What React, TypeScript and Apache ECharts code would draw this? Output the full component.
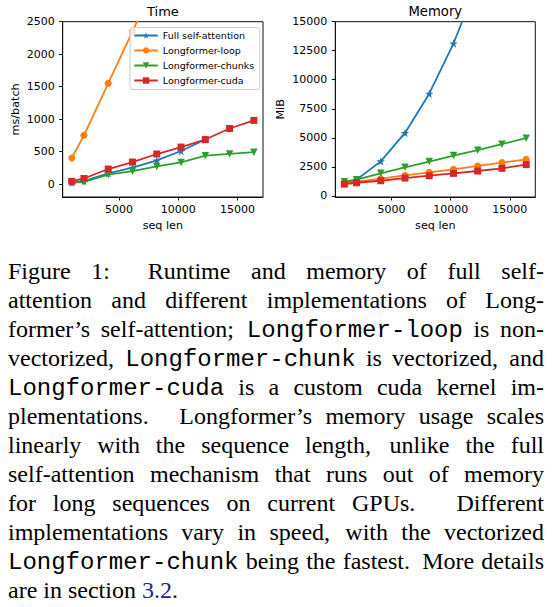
import React, { useEffect, useRef } from "react";
import * as echarts from "echarts";

// ---------------- data ----------------
const seqLen = [1024, 2048, 4096, 6144, 8192, 10240, 12288, 14336, 16384];
const seriesNames = ["Full self-attention", "Longformer-loop", "Longformer-chunks", "Longformer-cuda"];

const timeFull = [20, 46, 164, 251, 364, 508, 685];
const timeLoop = [400, 750, 1550, 2350, 3160, 3950];
const timeChunks = [20, 31, 144, 198, 270, 333, 437, 463, 490];
const timeCuda = [41, 85, 231, 338, 462, 569, 685, 855, 980];

const memFull = [1100, 1390, 2970, 5420, 8800, 13120, 18400];
const memLoop = [1100, 1214, 1474, 1763, 2023, 2283, 2572, 2861, 3150];
const memChunks = [1214, 1387, 1936, 2457, 2948, 3468, 3930, 4450, 4970];
const memCuda = [1011, 1127, 1300, 1531, 1734, 1936, 2139, 2370, 2688];

const xTicks = [5000, 10000, 15000];
const timeTicks = [0, 500, 1000, 1500, 2000, 2500];
const memTicks = [0, 2500, 5000, 7500, 10000, 12500, 15000];

const captionLines = [
  "Figure 1: Runtime and memory of full self-",
  "attention and different implementations of Long-",
  "former\u2019s self-attention; `Longformer-loop` is non-",
  "vectorized, `Longformer-chunk` is vectorized, and",
  "`Longformer-cuda` is a custom cuda kernel im-",
  "plementations. Longformer\u2019s memory usage scales",
  "linearly with the sequence length, unlike the full",
  "self-attention mechanism that runs out of memory",
  "for long sequences on current GPUs. Different",
  "implementations vary in speed, with the vectorized",
  "`Longformer-chunk` being the fastest. More details",
  "are in section [3.2].",
];

// ---------------- styling ----------------
const FONT = "'DejaVu Sans'";
const SERIF = "'Liberation Serif'";
const MONO = "'Liberation Mono'";
const COLORS = ["#1f77b4", "#ff7f0e", "#2ca02c", "#d62728"];
const STAR = "path://M50,0 L61.8,35.5 L99,35.5 L69,57.5 L80.5,93 L50,71 L19.5,93 L31,57.5 L1,35.5 L38.2,35.5 Z";
const SYMBOLS = [STAR, "circle", "triangle", "rect"];
const SYMBOL_SIZE = [8.5, 7, 7.5, 7];
const SYMBOL_ROT = [0, 0, 180, 0];

const pair = (vals: number[]) => vals.map((v, i) => [seqLen[i], v]);

function makeSeries(idx: number, vals: number[], axisIndex: number) {
  return {
    type: "line",
    name: seriesNames[idx],
    xAxisIndex: axisIndex,
    yAxisIndex: axisIndex,
    data: pair(vals),
    symbol: SYMBOLS[idx],
    symbolSize: SYMBOL_SIZE[idx],
    symbolRotate: SYMBOL_ROT[idx],
    showSymbol: true,
    clip: true,
    itemStyle: { color: COLORS[idx], borderWidth: 0 },
    lineStyle: { color: COLORS[idx], width: 1.8 },
    emphasis: { disabled: true },
  };
}

const plain = (v: number) => String(v);
const tickFont = { fontFamily: FONT, fontSize: 11, color: "#000" };
const nameFont = { fontFamily: FONT, fontSize: 11.2, color: "#000" };

function xAxis(gridIndex: number) {
  return {
    type: "value",
    gridIndex,
    min: 256,
    max: 17152,
    name: "seq len",
    nameLocation: "middle",
    nameGap: 23,
    nameTextStyle: nameFont,
    axisLine: { show: true, onZero: false, lineStyle: { color: "#111", width: 1 } },
    axisTick: { show: true, inside: false, length: 3.5, lineStyle: { color: "#111", width: 1 }, customValues: xTicks },
    axisLabel: { ...tickFont, margin: 7, customValues: xTicks, formatter: plain },
    splitLine: { show: false },
  };
}

function yAxis(gridIndex: number, min: number, max: number, ticks: number[], name: string, gap: number) {
  return {
    type: "value",
    gridIndex,
    min,
    max,
    name,
    nameLocation: "middle",
    nameGap: gap,
    nameTextStyle: nameFont,
    axisLine: { show: true, onZero: false, lineStyle: { color: "#111", width: 1 } },
    axisTick: { show: true, inside: false, length: 3.5, lineStyle: { color: "#111", width: 1 }, customValues: ticks },
    axisLabel: { ...tickFont, margin: 8, customValues: ticks, formatter: plain },
    splitLine: { show: false },
  };
}

function buildCaption() {
  const EM = 24;
  const LEFT = 8;
  const WIDTH = 536;
  const BASE0 = 279.3;
  const LINE = 29.0;
  const canvas = document.createElement("canvas");
  const ctx = canvas.getContext("2d")!;
  const famOf = (f: string) => (f === "mono" ? MONO : SERIF);
  const centralOf = (f: string) => (f === "mono" ? 0.2665 * EM : 0.3375 * EM);
  const measure = (t: string, f: string) => {
    ctx.font = `${EM}px ${famOf(f)}`;
    return ctx.measureText(t).width;
  };
  const parse = (tok: string) => {
    const segs: { t: string; f: string }[] = [];
    const re = /`([^`]+)`|\[([^\]]+)\]|([^`\[]+)/g;
    let m: RegExpExecArray | null;
    while ((m = re.exec(tok))) {
      if (m[1]) segs.push({ t: m[1], f: "mono" });
      else if (m[2]) segs.push({ t: m[2], f: "link" });
      else segs.push({ t: m[3], f: "serif" });
    }
    return segs;
  };
  const elements: any[] = [];
  captionLines.forEach((line, li) => {
    const tokens = line.split(" ");
    const words = tokens.map((tok) => {
      const segs = parse(tok).map((s) => ({ ...s, w: measure(s.t, s.f) }));
      return { tok: tok.replace(/[`\[\]]/g, ""), segs, w: segs.reduce((a, s) => a + s.w, 0) };
    });
    const gaps = words.slice(0, -1).map((wd) => {
      const last = wd.tok[wd.tok.length - 1];
      const sf = last === "." ? 3000 : last === ":" ? 2000 : last === ";" ? 1500 : last === "," ? 1250 : 1000;
      return {
        natural: 0.25 * EM + (sf >= 2000 ? 0.111 * EM : 0),
        stretch: 0.166 * EM * (sf / 1000),
        shrink: 0.083 * EM * (1000 / sf),
      };
    });
    const justified = li < captionLines.length - 1;
    const total = words.reduce((a, w) => a + w.w, 0) + gaps.reduce((a, g) => a + g.natural, 0);
    const diff = WIDTH - total;
    const sumStretch = gaps.reduce((a, g) => a + g.stretch, 0);
    const sumShrink = gaps.reduce((a, g) => a + g.shrink, 0);
    const gapW = gaps.map((g) => {
      if (!justified) return g.natural;
      return diff >= 0 ? g.natural + (g.stretch * diff) / sumStretch : g.natural + (g.shrink * diff) / sumShrink;
    });
    const baseline = BASE0 + li * LINE;
    let x = LEFT;
    words.forEach((wd, wi) => {
      wd.segs.forEach((s) => {
        elements.push({
          type: "text",
          x,
          y: baseline - centralOf(s.f),
          silent: true,
          style: {
            text: s.t,
            fill: s.f === "link" ? "#23238e" : "#000",
            fontSize: EM,
            fontFamily: famOf(s.f),
            align: "left",
            verticalAlign: "middle",
          },
        });
        x += s.w;
      });
      if (wi < gapW.length) x += gapW[wi];
    });
  });
  return elements;
}

function buildOption() {
  const grids = [
    { left: 62.7, top: 21.7, width: 200.3, height: 175.3 },
    { left: 335.3, top: 21.7, width: 200, height: 175.3 },
  ].map((g) => ({ ...g, show: true, borderColor: "#111", borderWidth: 1, backgroundColor: "transparent", containLabel: false }));

  return {
    animation: false,
    backgroundColor: "#fff",
    title: [
      { text: "Time", left: 162.9, top: 5, textAlign: "center", padding: 0, textStyle: { fontFamily: FONT, fontSize: 13, fontWeight: "normal", color: "#000" } },
      { text: "Memory", left: 435.3, top: 5, textAlign: "center", padding: 0, textStyle: { fontFamily: FONT, fontSize: 13.2, fontWeight: "normal", color: "#000" } },
    ],
    legend: {
      data: seriesNames,
      orient: "vertical",
      left: 130,
      top: 27.5,
      itemWidth: 23.5,
      itemHeight: 8,
      itemGap: 4,
      padding: [2.5, 5.5, 3.5, 3.3],
      backgroundColor: "rgba(255,255,255,0.8)",
      borderColor: "#cccccc",
      borderWidth: 1,
      borderRadius: 3,
      selectedMode: false,
      textStyle: { fontFamily: FONT, fontSize: 9.5, color: "#000", lineHeight: 11 },
    },
    grid: grids,
    xAxis: [xAxis(0), xAxis(1)],
    yAxis: [yAxis(0, -200, 2500, timeTicks, "ms/batch", 41.5), yAxis(1, -100, 15000, memTicks, "MiB", 49)],
    series: [
      makeSeries(0, timeFull, 0),
      makeSeries(1, timeLoop, 0),
      makeSeries(2, timeChunks, 0),
      makeSeries(3, timeCuda, 0),
      makeSeries(0, memFull, 1),
      makeSeries(1, memLoop, 1),
      makeSeries(2, memChunks, 1),
      makeSeries(3, memCuda, 1),
    ],
    graphic: buildCaption(),
  };
}

export default function App() {
  const ref = useRef<HTMLDivElement>(null);
  useEffect(() => {
    if (!ref.current) return;
    const chart = echarts.init(ref.current, null, { renderer: "svg" });
    chart.setOption(buildOption() as any);
    return () => chart.dispose();
  }, []);
  return (
    <div
      ref={ref}
      style={{ position: "absolute", left: 0, top: 0, width: 552, height: 607, background: "#fff" }}
    />
  );
}
